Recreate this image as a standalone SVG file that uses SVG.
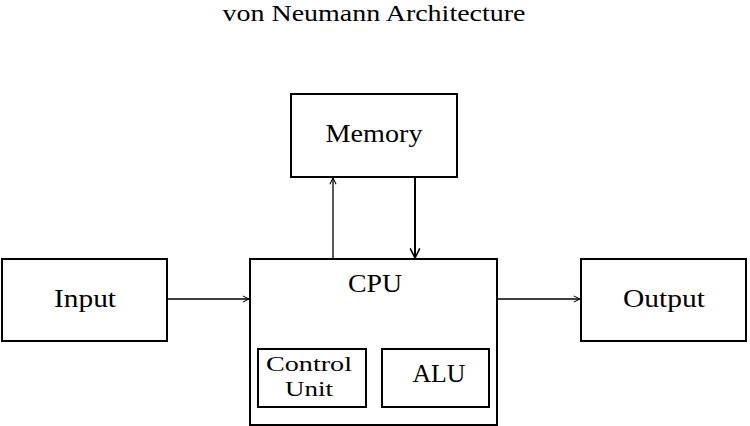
<svg xmlns="http://www.w3.org/2000/svg" width="750" height="426" viewBox="0 0 750 426">
<style>
.b{fill:#fff;stroke:#000;stroke-width:2}
.t{font-family:"Liberation Serif",serif;font-size:25px;text-anchor:middle;fill:#000}
.c{stroke:#000;stroke-width:1.3;fill:none;marker-end:url(#a)}
</style>
<defs><marker id="a" viewBox="0 0 10 10" refX="9" refY="5" markerWidth="6" markerHeight="6" orient="auto"><path d="M1,1 L9,5 L1,9" fill="none" stroke="#000" stroke-width="1.3"/></marker></defs>
<rect width="750" height="426" fill="#fff"/>
<text class="t" x="374" y="21" style="font-size:23px" textLength="303" lengthAdjust="spacingAndGlyphs">von Neumann Architecture</text>
<g id="memory"><rect class="b" x="291" y="94" width="166" height="83"/><text class="t" x="374" y="142" textLength="97" lengthAdjust="spacingAndGlyphs">Memory</text></g>
<g id="input"><rect class="b" x="2" y="259" width="165" height="82"/><text class="t" x="85" y="307" textLength="62" lengthAdjust="spacingAndGlyphs">Input</text></g>
<g id="cpu"><rect class="b" x="250" y="259" width="247" height="166"/><text class="t" x="375" y="292" textLength="54" lengthAdjust="spacingAndGlyphs">CPU</text></g>
<g id="control"><rect class="b" x="258" y="349" width="108" height="58"/><text class="t" x="309" y="371" style="font-size:22px" textLength="86" lengthAdjust="spacingAndGlyphs">Control</text><text class="t" x="309" y="396" style="font-size:22px" textLength="48" lengthAdjust="spacingAndGlyphs">Unit</text></g>
<g id="alu"><rect class="b" x="382" y="349" width="107" height="58"/><text class="t" x="439" y="382" textLength="53" lengthAdjust="spacingAndGlyphs">ALU</text></g>
<g id="output"><rect class="b" x="581" y="259" width="165" height="82"/><text class="t" x="664" y="307" textLength="82" lengthAdjust="spacingAndGlyphs">Output</text></g>
<g id="connectors">
<line class="c" x1="167" y1="299" x2="249" y2="299"/>
<line class="c" x1="497" y1="299" x2="580" y2="299"/>
<line class="c" x1="333" y1="259" x2="333" y2="178"/>
<line class="c" x1="415" y1="177" x2="415" y2="258" style="stroke-width:2"/>
</g>
</svg>
